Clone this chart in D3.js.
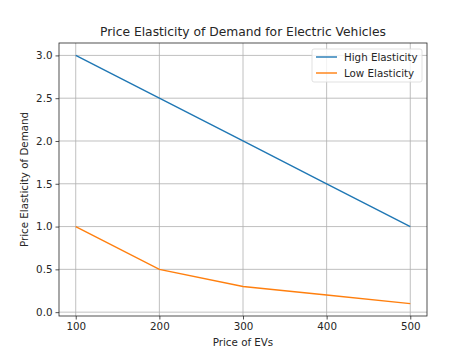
<!DOCTYPE html>
<html>
<head>
<meta charset="utf-8">
<script src="https://cdn.jsdelivr.net/npm/d3@7"></script>
<style>
  body { margin: 0; background: #fff; overflow: hidden; }
  svg { display: block; }
  text { font-family: "DejaVu Sans", sans-serif; fill: #262626; }
</style>
</head>
<body>
<svg id="chart"></svg>
<script>
const svgWidth = 474;
const svgHeight = 353;

// data
const prices = [100, 200, 300, 400, 500];
const highElasticity = [3.0, 2.5, 2.0, 1.5, 1.0];
const lowElasticity = [1.0, 0.5, 0.3, 0.2, 0.1];
const xTicks = [100, 200, 300, 400, 500];
const yTicks = [0.0, 0.5, 1.0, 1.5, 2.0, 2.5, 3.0];

const series = [
  { name: "High Elasticity", values: highElasticity, color: "#1f77b4" },
  { name: "Low Elasticity", values: lowElasticity, color: "#ff7f0e" }
];

const margin = { top: 43, right: 47, bottom: 37, left: 59 };
const innerWidth = svgWidth - margin.left - margin.right;
const innerHeight = svgHeight - margin.top - margin.bottom;

const svg = d3.select("#chart")
  .attr("width", svgWidth)
  .attr("height", svgHeight);

const graph = svg.append("g")
  .attr("transform", "translate(" + margin.left + "," + margin.top + ")");

// matplotlib-like 5% padding
const x = d3.scaleLinear().domain([80, 520]).range([0, innerWidth]);
const y = d3.scaleLinear().domain([-0.045, 3.145]).range([innerHeight, 0]);

// grid
graph.append("g")
  .selectAll("line")
  .data(xTicks)
  .enter().append("line")
    .attr("x1", d => x(d)).attr("x2", d => x(d))
    .attr("y1", 0).attr("y2", innerHeight)
    .attr("stroke", "#b0b0b0").attr("stroke-width", 0.8);
graph.append("g")
  .selectAll("line")
  .data(yTicks)
  .enter().append("line")
    .attr("y1", d => y(d)).attr("y2", d => y(d))
    .attr("x1", 0).attr("x2", innerWidth)
    .attr("stroke", "#b0b0b0").attr("stroke-width", 0.8);

// axes
const xAxis = graph.append("g")
  .attr("transform", "translate(0," + innerHeight + ")")
  .call(d3.axisBottom(x).tickValues(xTicks).tickSize(3.5).tickPadding(3).tickSizeOuter(0));
const yAxis = graph.append("g")
  .call(d3.axisLeft(y).tickValues(yTicks).tickFormat(d3.format(".1f")).tickSize(3.5).tickPadding(3).tickSizeOuter(0));
[xAxis, yAxis].forEach(a => {
  a.select(".domain").remove();
  a.selectAll("text").style("font-size", "10.3px").attr("fill", "#262626");
  a.selectAll(".tick line").attr("stroke", "#262626").attr("stroke-width", 0.8);
});

// lines
const line = d3.line()
  .x((d, i) => x(prices[i]))
  .y(d => y(d));

graph.selectAll(".series")
  .data(series)
  .enter().append("path")
    .attr("class", "series")
    .attr("d", d => line(d.values))
    .attr("fill", "none")
    .attr("stroke", d => d.color)
    .attr("stroke-width", 1.4);

// frame
graph.append("rect")
  .attr("width", innerWidth).attr("height", innerHeight)
  .attr("fill", "none").attr("stroke", "#262626").attr("stroke-width", 0.8);

// title and labels
svg.append("text")
  .attr("x", margin.left + innerWidth / 2).attr("y", 36)
  .attr("text-anchor", "middle")
  .style("font-size", "12.3px")
  .text("Price Elasticity of Demand for Electric Vehicles");

svg.append("text")
  .attr("x", margin.left + innerWidth / 2).attr("y", 346)
  .attr("text-anchor", "middle")
  .style("font-size", "10.3px")
  .text("Price of EVs");

svg.append("text")
  .attr("transform", "translate(28," + (margin.top + innerHeight / 2) + ") rotate(-90)")
  .attr("text-anchor", "middle")
  .style("font-size", "10.3px")
  .text("Price Elasticity of Demand");

// legend
const legend = graph.append("g")
  .attr("transform", "translate(" + (innerWidth - 115) + ",6)");
legend.append("rect")
  .attr("width", 110).attr("height", 33).attr("rx", 2)
  .attr("fill", "#fff").attr("fill-opacity", 0.8)
  .attr("stroke", "#d9d9d9").attr("stroke-width", 0.8);
const item = legend.selectAll(".item")
  .data(series)
  .enter().append("g")
    .attr("class", "item")
    .attr("transform", (d, i) => "translate(0," + (8 + i * 16) + ")");
item.append("line")
  .attr("x1", 4).attr("x2", 25)
  .attr("stroke", d => d.color).attr("stroke-width", 1.4);
item.append("text")
  .attr("x", 32).attr("dy", "0.35em")
  .style("font-size", "10.3px")
  .text(d => d.name);
</script>
</body>
</html>
